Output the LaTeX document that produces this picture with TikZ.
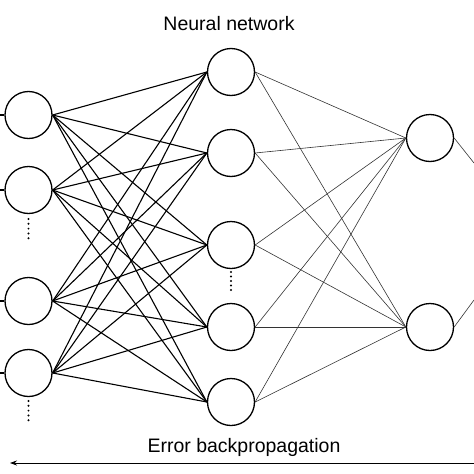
\documentclass[tikz,border=0pt]{standalone}
\usepackage{fontspec}
\setmainfont{Liberation Sans}
\usetikzlibrary{arrows.meta}
\begin{document}
\begin{tikzpicture}[x=1pt,y=-1pt,
  neuron/.style={circle,draw,line width=1.3pt,minimum size=47pt,inner sep=0pt},
  heavy/.style={line width=1.1pt},
  light/.style={line width=0.6pt,black!80},
  dotcol/.style={fill=black},
  lbl/.style={font=\fontsize{19.5}{22}\selectfont}]
\useasboundingbox (0,0) rectangle (474,474);
% input layer
\node[neuron] (i1) at (28.5,115) {};
\node[neuron] (i2) at (28.5,190) {};
\node[neuron] (i3) at (28.5,301) {};
\node[neuron] (i4) at (28.5,373) {};
% hidden layer
\node[neuron] (h1) at (231,72) {};
\node[neuron] (h2) at (231,153) {};
\node[neuron] (h3) at (231,245) {};
\node[neuron] (h4) at (231,327) {};
\node[neuron] (h5) at (231,402) {};
% output layer
\node[neuron] (o1) at (430,138) {};
\node[neuron] (o2) at (430,327) {};
% stubs
\foreach \i in {1,2,3,4} {
  \coordinate (s\i) at (0,0 |- i\i.west);
  \draw[heavy] (s\i) -- (i\i.west);
}
\coordinate (e1) at (474,163);
\coordinate (e2) at (474,300);
\draw[light] (o1.east) -- (e1);
\draw[light] (o2.east) -- (e2);
% connections
\foreach \i in {1,2,3,4}
  \foreach \h in {1,2,3,4,5}
    \draw[heavy] (i\i.east) -- (h\h.west);
\foreach \h in {1,2,3,4,5}
  \foreach \o in {1,2}
    \draw[light] (h\h.east) -- (o\o.west);
% dots
\foreach \k in {0,...,4} {
  \fill[dotcol] (28.5,219+4.8*\k) circle (1.1);
  \fill[dotcol] (28.5,401+4.8*\k) circle (1.1);
  \fill[dotcol] (231,272+4.5*\k) circle (1.1);
}
% labels
\node[lbl] (title) at (229,24) {Neural network};
\node[lbl] (err) at (244,447) {Error backpropagation};
\coordinate (ar) at (474,463);
\coordinate (al) at (10,463);
\draw[line width=0.8pt,-{Stealth[length=7pt,width=5pt]}] (ar) -- (al);
\end{tikzpicture}
\end{document}
